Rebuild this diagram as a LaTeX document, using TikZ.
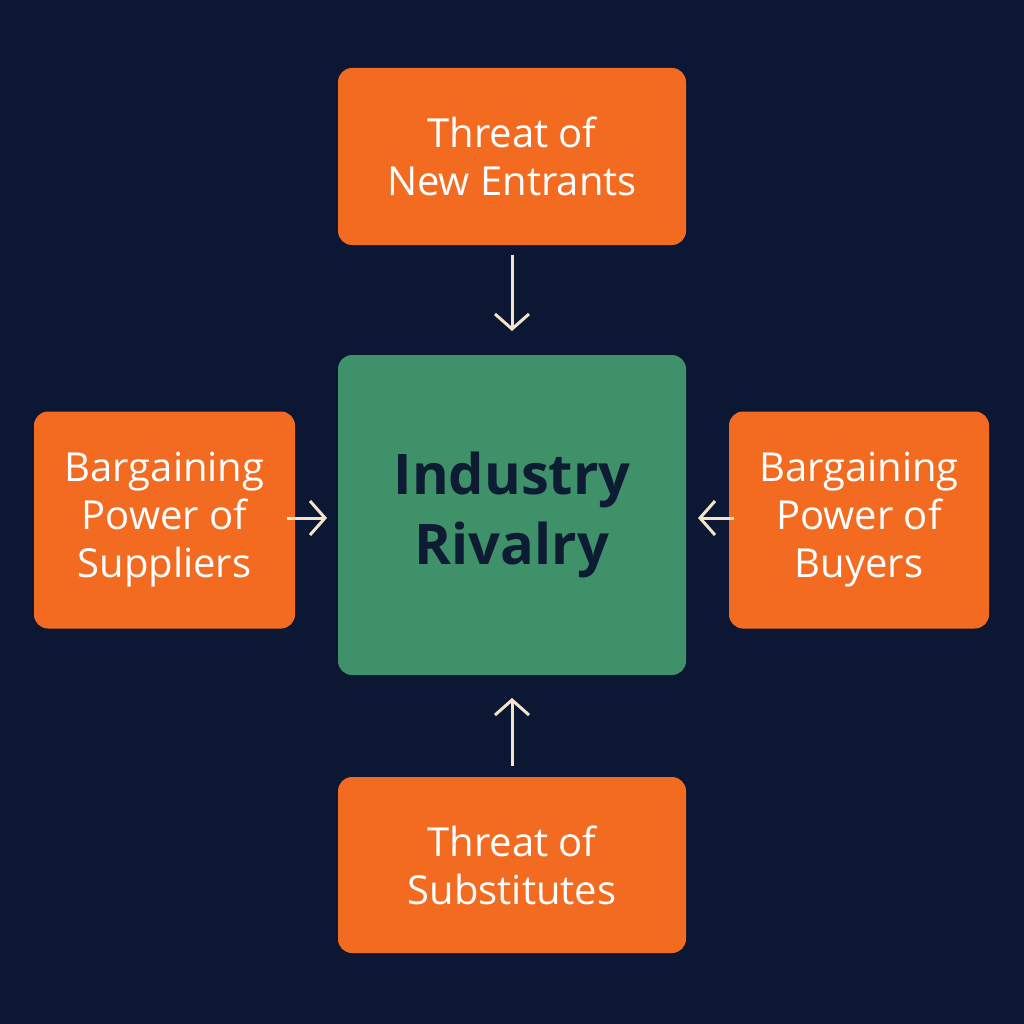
\documentclass[tikz,border=0pt]{standalone}
\usepackage{fontspec}
\setmainfont{Open Sans}
\usetikzlibrary{arrows.meta}
\definecolor{bg}{HTML}{0C1733}
\definecolor{org}{HTML}{F26B21}
\definecolor{grn}{HTML}{3F916A}
\definecolor{arr}{HTML}{F3E3C8}
\definecolor{ink}{HTML}{0D1B33}
\begin{document}
\begin{tikzpicture}[x=1pt,y=-1pt,
 force/.style={fill=org,rounded corners=14pt,align=center,text=white,font=\fontsize{40}{48}\selectfont,inner sep=0pt},
 core/.style={fill=grn,rounded corners=14pt,align=center,text=ink,font=\fontsize{56}{70}\selectfont\bfseries,inner sep=0pt},
 link/.style={draw=arr,line width=3pt,-{Straight Barb[length=15pt,width=34pt,line width=3pt]}}]
\fill[bg] (0,0) rectangle (1024,1024);
\useasboundingbox (0,0) rectangle (1024,1024);
\node[core,minimum width=348pt,minimum height=320pt] (c) at (512,515) {Industry\\Rivalry};
\node[force,minimum width=348pt,minimum height=177pt] (t) at (512,156.5) {Threat of\\New Entrants};
\node[force,minimum width=348pt,minimum height=176pt] (b) at (512,865) {Threat of\\Substitutes};
\node[force,minimum width=261pt,minimum height=217pt] (l) at (164.5,520) {Bargaining\\Power of\\Suppliers};
\node[force,minimum width=260pt,minimum height=217pt] (r) at (859,520) {Bargaining\\Power of\\Buyers};
\coordinate (ta) at (512,255); \coordinate (tb) at (512,331);
\coordinate (la) at (287,518); \coordinate (lb) at (327,518);
\coordinate (ra) at (734,518); \coordinate (rb) at (698,518);
\coordinate (ba) at (512,766); \coordinate (bb) at (512,698);
\draw[link] (ta) -- (tb);
\draw[link] (la) -- (lb);
\draw[link] (ra) -- (rb);
\draw[link] (ba) -- (bb);
\end{tikzpicture}
\end{document}
